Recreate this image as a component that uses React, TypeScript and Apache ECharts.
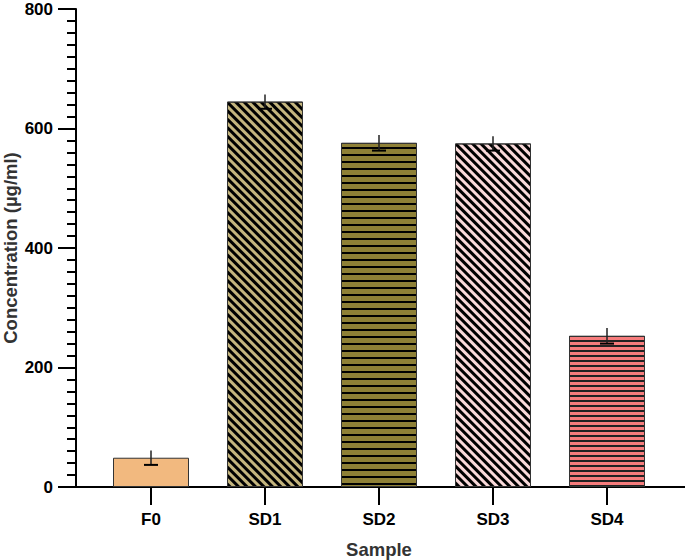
import React, { useEffect, useRef } from 'react';
import * as echarts from 'echarts';

const categories = ['F0', 'SD1', 'SD2', 'SD3', 'SD4'];
const means = [49, 645, 576, 575, 253];
const sds = [12, 12, 13, 12, 13];
const fills = ['#F2B97F', '#C4B57E', '#8E8036', '#F9D9D9', '#F67C7C'];
const yTicks = [0, 200, 400, 600, 800];

const FONT = '"Liberation Sans", Arial, sans-serif';

// stripe patterns (null = plain fill)
const decals: any[] = [
  null,
  { symbol: 'rect', symbolSize: 1, dashArrayX: [1, 0], dashArrayY: [3, 3], rotation: Math.PI / 4, color: '#000' },
  { symbol: 'rect', symbolSize: 1, dashArrayX: [1, 0], dashArrayY: [2, 5], rotation: 0, color: '#000' },
  { symbol: 'rect', symbolSize: 1, dashArrayX: [1, 0], dashArrayY: [3, 3], rotation: Math.PI / 4, color: '#000' },
  { symbol: 'rect', symbolSize: 1, dashArrayX: [1, 0], dashArrayY: [2, 3], rotation: 0, color: '#222' },
];

const App: React.FC = () => {
  const chartRef = useRef<HTMLDivElement>(null);

  useEffect(() => {
    document.body.style.margin = '0';
    if (!chartRef.current) return undefined;
    const chart = echarts.init(chartRef.current, undefined, { renderer: 'svg' });

    const options: any = {
      animation: false,
      backgroundColor: '#fff',
      grid: [
        { left: 76, right: 0, top: 9, bottom: 73, outerBoundsMode: 'none', containLabel: false },
        { left: 94, width: 570, top: 9, bottom: 73, outerBoundsMode: 'none', containLabel: false },
      ],
      xAxis: [
        {
          type: 'value',
          gridIndex: 0,
          min: 0,
          max: 1,
          axisLine: { show: true, lineStyle: { color: '#000', width: 2 } },
          axisTick: { show: false },
          axisLabel: { show: false },
          splitLine: { show: false },
        },
        {
          type: 'category',
          gridIndex: 1,
          data: categories,
          axisLine: { show: false },
          axisTick: { show: true, length: 18, alignWithLabel: true, lineStyle: { color: '#000', width: 2 } },
          axisLabel: { margin: 24, fontSize: 17, fontWeight: 'bold', color: '#000', fontFamily: FONT },
          name: 'Sample',
          nameLocation: 'middle',
          nameGap: 53,
          nameMoveOverlap: false,
          nameTextStyle: { fontSize: 18.5, fontWeight: 'bold', color: '#333', fontFamily: FONT },
        },
      ],
      yAxis: [
        {
          type: 'value',
          gridIndex: 0,
          min: yTicks[0],
          max: yTicks[yTicks.length - 1],
          interval: 200,
          axisLine: { show: true, lineStyle: { color: '#000', width: 2 } },
          axisTick: { show: true, length: 18, lineStyle: { color: '#000', width: 2 } },
          minorTick: { show: true, splitNumber: 10, length: 9, lineStyle: { color: '#000', width: 2 } },
          splitLine: { show: false },
          axisLabel: { margin: 23, fontSize: 17, lineHeight: 13, fontWeight: 'bold', color: '#000', fontFamily: FONT },
          name: 'Concentration (µg/ml)',
          nameLocation: 'middle',
          nameGap: 57,
          nameMoveOverlap: false,
          nameTextStyle: { fontSize: 18.5, lineHeight: 18, fontWeight: 'bold', color: '#333', fontFamily: FONT },
        },
        {
          type: 'value',
          gridIndex: 1,
          min: yTicks[0],
          max: yTicks[yTicks.length - 1],
          show: false,
        },
      ],
      series: [
        {
          type: 'bar',
          xAxisIndex: 1,
          yAxisIndex: 1,
          barWidth: 76,
          data: means.map((v, i) => ({
            value: v,
            itemStyle: {
              color: fills[i],
              borderColor: '#333',
              borderWidth: 1,
              ...(decals[i] ? { decal: decals[i] } : {}),
            },
          })),
        },
        {
          type: 'custom',
          xAxisIndex: 1,
          yAxisIndex: 1,
          z: 5,
          data: means.map((m, i) => [i, m, sds[i]]),
          renderItem: (_params: any, api: any) => {
            const x = api.value(0);
            const m = api.value(1);
            const s = api.value(2);
            const top = api.coord([x, m + s]);
            const bot = api.coord([x, m - s]);
            const style = { stroke: '#222', lineWidth: 1.5 };
            return {
              type: 'group',
              children: [
                { type: 'line', shape: { x1: top[0], y1: top[1], x2: bot[0], y2: bot[1] }, style },
                { type: 'line', shape: { x1: bot[0] - 7, y1: bot[1], x2: bot[0] + 7, y2: bot[1] }, style: { stroke: '#000', lineWidth: 2 } },
              ],
            };
          },
        },
      ],
    };

    chart.setOption(options);
    return () => chart.dispose();
  }, []);

  return <div ref={chartRef} style={{ width: '685px', height: '560px' }} />;
};

export default App;
